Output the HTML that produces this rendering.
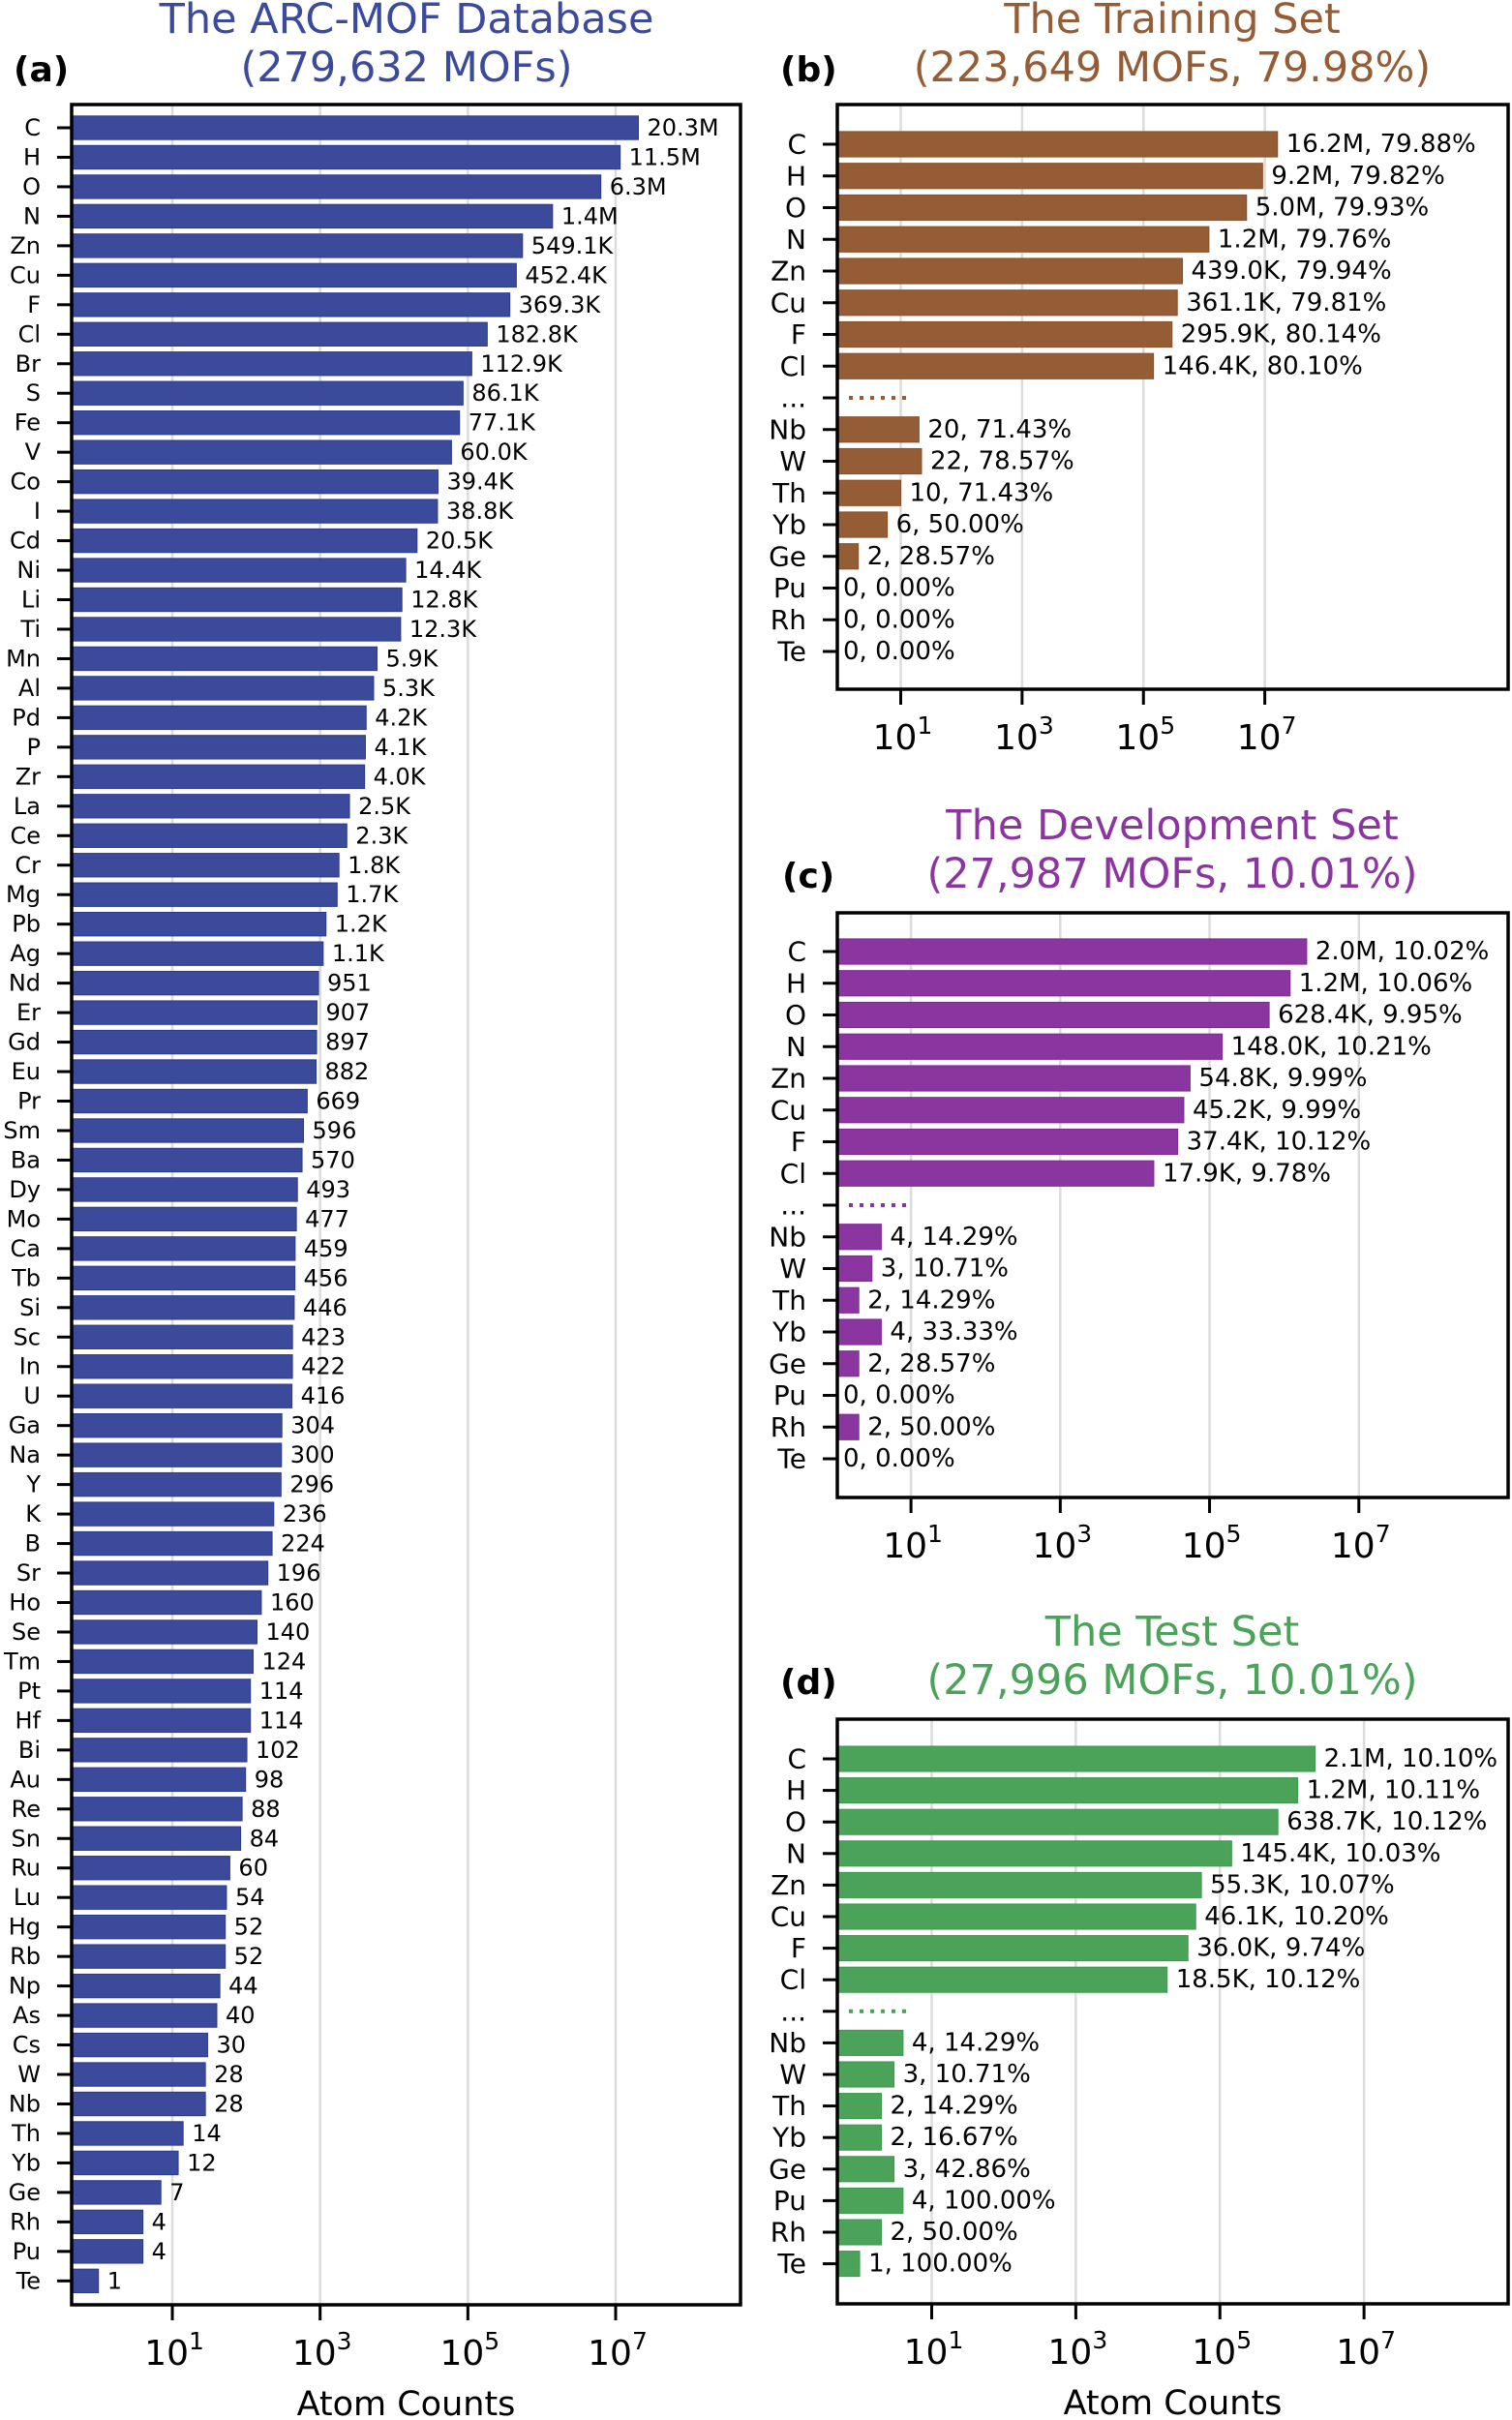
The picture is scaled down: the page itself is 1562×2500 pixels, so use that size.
<!DOCTYPE html>
<html><head><meta charset="utf-8">
<style>
html,body{margin:0;padding:0;background:#fff;}
svg{display:block;font-family:"DejaVu Sans","Liberation Sans",sans-serif;}
</style></head>
<body>
<svg id="fig" width="1562" height="2500" viewBox="0 0 1562 2500" xmlns="http://www.w3.org/2000/svg"></svg>
<script>
// ---- Panel (a) data ----
const aCategories = ["C","H","O","N","Zn","Cu","F","Cl","Br","S","Fe","V","Co","I","Cd","Ni","Li","Ti","Mn","Al","Pd","P","Zr","La","Ce","Cr","Mg","Pb","Ag","Nd","Er","Gd","Eu","Pr","Sm","Ba","Dy","Mo","Ca","Tb","Si","Sc","In","U","Ga","Na","Y","K","B","Sr","Ho","Se","Tm","Pt","Hf","Bi","Au","Re","Sn","Ru","Lu","Hg","Rb","Np","As","Cs","W","Nb","Th","Yb","Ge","Rh","Pu","Te"];
const aValues = [20.3e6,11.5e6,6.3e6,1.4e6,549.1e3,452.4e3,369.3e3,182.8e3,112.9e3,86.1e3,77.1e3,60.0e3,39.4e3,38.8e3,20.5e3,14.4e3,12.8e3,12.3e3,5.9e3,5.3e3,4.2e3,4.1e3,4.0e3,2.5e3,2.3e3,1.8e3,1.7e3,1.2e3,1.1e3,951,907,897,882,669,596,570,493,477,459,456,446,423,422,416,304,300,296,236,224,196,160,140,124,114,114,102,98,88,84,60,54,52,52,44,40,30,28,28,14,12,7,4,4,1];
// ---- Split panels data ----
const subCategories = ["C","H","O","N","Zn","Cu","F","Cl","...","Nb","W","Th","Yb","Ge","Pu","Rh","Te"];
const bValues = [16.2e6,9.2e6,5.0e6,1.2e6,439.0e3,361.1e3,295.9e3,146.4e3,null,20,22,10,6,2,0,0,0];
const bPercents = [79.88,79.82,79.93,79.76,79.94,79.81,80.14,80.10,null,71.43,78.57,71.43,50.00,28.57,0,0,0];
const cValues = [2.0e6,1.2e6,628.4e3,148.0e3,54.8e3,45.2e3,37.4e3,17.9e3,null,4,3,2,4,2,0,2,0];
const cPercents = [10.02,10.06,9.95,10.21,9.99,9.99,10.12,9.78,null,14.29,10.71,14.29,33.33,28.57,0,50.00,0];
const dValues = [2.1e6,1.2e6,638.7e3,145.4e3,55.3e3,46.1e3,36.0e3,18.5e3,null,4,3,2,2,3,4,2,1];
const dPercents = [10.10,10.11,10.12,10.03,10.07,10.20,9.74,10.12,null,14.29,10.71,14.29,16.67,42.86,100.00,50.00,100.00];
const tickExponents = [1,3,5,7];

const NS="http://www.w3.org/2000/svg";
const svg=document.getElementById('fig');
function mk(tag,attrs,parent){const e=document.createElementNS(NS,tag);for(const k in attrs)e.setAttribute(k,attrs[k]);(parent||svg).appendChild(e);return e;}
function fmt(v){if(v>=1e6)return (v/1e6).toFixed(1)+'M';if(v>=1e3)return (v/1e3).toFixed(1)+'K';return String(Math.round(v));}

function panel(p){
  const g=mk('g',{});
  
  
  const x=v=>p.left+(Math.log10(v)-p.lmin)/(p.lmax-p.lmin)*(p.right-p.left);
  const y=i=>p.y0+i*p.step;
  // title
  const t1=mk('text',{x:p.tx,y:p.ty1,'text-anchor':'middle','font-size':p.tfs,fill:p.color},g);
  t1.textContent=p.title1;
  
  
  const t2=mk('text',{x:p.tx,y:p.ty1+50,'text-anchor':'middle','font-size':p.tfs,fill:p.color},g);
  t2.textContent=p.title2;
  
  
  const lb=mk('text',{x:p.lx,y:p.ty1+50,'font-size':36,'font-weight':'bold',fill:'#000'},g);
  lb.textContent=p.letter;
  
  
  // grid
  tickExponents.forEach(e=>{
    const gx=x(Math.pow(10,e));
    const gl=mk('line',{x1:gx,x2:gx,y1:p.top,y2:p.bottom,stroke:'#dcdcdc','stroke-width':2.5},g);
    
    
  });
  // bars
  p.cats.forEach((c,i)=>{
    const cy=y(i);
    const tk=mk('line',{x1:p.left-15,x2:p.left,y1:cy,y2:cy,stroke:'#000','stroke-width':3},g);
    
    
    const tl=mk('text',{x:p.left-32,y:cy,'text-anchor':'end','dominant-baseline':'central','font-size':p.yfs,fill:'#000'},g);
    tl.textContent=c;
    
    
    const v=p.vals[i];
    if(v===null){
      const dl=mk('line',{x1:p.left+12,x2:p.left+74,y1:cy,y2:cy,stroke:p.color,'stroke-width':4,'stroke-dasharray':'4,7'},g);
      
      
      return;
    }
    let end=p.left;
    if(v>0){
      end=x(v);
      const bh=p.step*0.8;
      const r=mk('rect',{x:p.left,y:cy-bh/2,width:Math.max(0,end-p.left),height:bh,fill:p.color,stroke:p.edge,'stroke-width':1},g);
      
      
    }
    const txt=p.pcts? (v===0?'0, 0.00%':fmt(v)+', '+p.pcts[i].toFixed(2)+'%') : fmt(v);
    const vl=mk('text',{x:end+(v>0?9:6),y:cy,'dominant-baseline':'central','font-size':p.vfs,fill:'#000'},g);
    vl.textContent=txt;
    
    
  });
  // frame
  const fr=mk('rect',{x:p.left,y:p.top,width:p.right-p.left,height:p.bottom-p.top,fill:'none',stroke:'#000','stroke-width':3.5},g);
  
  
  // x ticks
  tickExponents.forEach(e=>{
    const gx=x(Math.pow(10,e));
    const tk=mk('line',{x1:gx,x2:gx,y1:p.bottom,y2:p.bottom+16,stroke:'#000','stroke-width':3},g);
    
    
    const tt=mk('text',{x:gx+2,y:p.bottom+62,'text-anchor':'middle','font-size':36,fill:'#000'},g);
    
    
    const s1=mk('tspan',{},tt);s1.textContent='10';
    const s2=mk('tspan',{'font-size':25,dy:-16},tt);s2.textContent=String(e);
  });
  if(p.xlabel){
    const xl=mk('text',{x:(p.left+p.right)/2,y:p.bottom+114,'text-anchor':'middle','font-size':35,fill:'#000'},g);
    xl.textContent='Atom Counts';
    
    
  }
}

panel({name:'panel-a-arc-mof',cats:aCategories,vals:aValues,pcts:null,color:'#3c4a9b',edge:'#2d3a8c',
  left:74,right:765,top:108,bottom:2381,lmin:-0.363,lmax:8.69,y0:132,step:30.47,
  tx:420,ty1:34,tfs:43,title1:'The ARC-MOF Database',title2:'(279,632 MOFs)',letter:'(a)',lx:14,
  yfs:24,vfs:24,xlabel:true});
panel({name:'panel-b-training',cats:subCategories,vals:bValues,pcts:bPercents,color:'#955d35',edge:'#8a5028',
  left:865,right:1558,top:108,bottom:712,lmin:-0.045,lmax:11.01,y0:149,step:32.75,
  tx:1211,ty1:34,tfs:43,title1:'The Training Set',title2:'(223,649 MOFs, 79.98%)',letter:'(b)',lx:806,
  yfs:28,vfs:26,xlabel:false});
panel({name:'panel-c-development',cats:subCategories,vals:cValues,pcts:cPercents,color:'#8b36a0',edge:'#7d2a94',
  left:865,right:1558,top:943,bottom:1547,lmin:0.013,lmax:9.0,y0:983,step:32.75,
  tx:1211,ty1:867,tfs:43,title1:'The Development Set',title2:'(27,987 MOFs, 10.01%)',letter:'(c)',lx:808,
  yfs:28,vfs:26,xlabel:false});
panel({name:'panel-d-test',cats:subCategories,vals:dValues,pcts:dPercents,color:'#4ba35a',edge:'#3f9850',
  left:865,right:1558,top:1776,bottom:2380,lmin:-0.31,lmax:9.0,y0:1817,step:32.6,
  tx:1211,ty1:1700,tfs:43,title1:'The Test Set',title2:'(27,996 MOFs, 10.01%)',letter:'(d)',lx:806,
  yfs:28,vfs:26,xlabel:true});
</script>
</body></html>
